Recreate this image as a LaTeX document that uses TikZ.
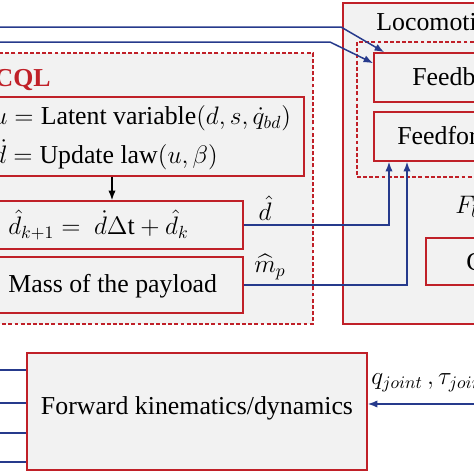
\documentclass[tikz,border=0pt]{standalone}
\usepackage{amsmath}
\usepackage{fontspec}
\setmainfont{Liberation Serif}
\usepackage{tikz}
\usetikzlibrary{arrows.meta,positioning,fit}
\definecolor{boxred}{RGB}{192,32,40}
\definecolor{linkblue}{RGB}{38,58,140}
\definecolor{panelgray}{RGB}{242,242,242}

\begin{document}
\begin{tikzpicture}[x=0.02cm,y=-0.02cm,
    redbox/.style={draw=boxred, line width=0.9pt, fill=panelgray, inner sep=0pt},
    dashbox/.style={draw=boxred, line width=0.6pt, dash pattern=on 2.2pt off 1.3pt, fill=panelgray, inner sep=0pt},
    link/.style={draw=linkblue, line width=0.85pt},
    tip/.style={-{Latex[length=5.5pt,width=4.2pt]}},
    txt/.style={font=\fontsize{14.7}{17}\selectfont, inner sep=0pt}]
    \useasboundingbox (0,0) rectangle (474,474);
    \clip (0,0) rectangle (474,474);

    % DCQL block
    \node[dashbox, fit={(-10,53) (313,324)}] (dcql) {};
    \node[txt, anchor=east, text=boxred] (dcqltitle) at (51,80) {\textbf{DCQL}};
    \node[redbox, fit={(-40,97) (304,176)}] (lat) {};
    \node[txt, anchor=west] (latline) at (-7,118) {$u = \text{Latent variable}(d, s, \dot{q}_{bd})$};
    \node[txt, anchor=west] (updline) at (-7,155) {$\dot{d} = \text{Update law}(u, \beta)$};
    \node[redbox, fit={(-40,201) (243,249)}] (est) {};
    \node[txt, anchor=west] (estline) at (8,225) {$\hat{d}_{k+1} = \ \dot{d}\Delta\mathrm{t} + \hat{d}_k$};
    \node[redbox, fit={(-40,257) (243,313)}] (mass) {};
    \node[txt, anchor=west] (massline) at (8,286) {Mass of the payload};

    % Locomotion block
    \node[redbox, fit={(343,3) (520,324)}] (loco) {};
    \node[txt, anchor=west] (locotitle) at (376,22) {Locomotion};
    \node[dashbox, fit={(357,42) (520,177)}] (ctrl) {};
    \node[redbox, fit={(374,53) (520,102)}] (fbk) {};
    \node[txt, anchor=west] (fbkline) at (412,77) {Feedback};
    \node[redbox, fit={(374,112) (520,161)}] (ffw) {};
    \node[txt, anchor=west] (ffwline) at (397,136) {Feedforward};
    \node[txt, anchor=west] (fbforce) at (455,207) {$F_b$};
    \node[redbox, fit={(426,238) (520,285)}] (cbox) {};
    \node[txt, anchor=west] (cline) at (466,262) {C};

    % Forward kinematics block
    \node[redbox, fit={(27,353) (367,470)}] (fkd) {};
    \node[txt] (fkdline) at (197,408) {Forward kinematics/dynamics};

    % Arrows into the controller
    \coordinate (in1) at (0,27);
    \coordinate (in2) at (0,42);
    \draw[link,tip] (in1) -- (341,27) -- ([xshift=0.22cm]fbk.north west);
    \draw[link,tip] (in2) -- (330,42) -- ([yshift=-0.22cm]fbk.north west);
    \coordinate (dn) at (112,188);
    \draw[line width=0.85pt,tip] (dn |- lat.south) -- (dn |- est.north);
    \coordinate (dup) at (389,0);
    \coordinate (mup) at (407,0);
    \draw[link,tip] (est.east) -- (est.east -| dup) -- (dup |- ffw.south);
    \draw[link,tip] (mass.east) -- (mass.east -| mup) -- (mup |- ffw.south);
    \node[txt] (dlabel) at (265,208) {$\hat{d}$};
    \node[txt] (mlabel) at (270,267) {$\widehat{m}_p$};

    % Lines at the kinematics block
    \foreach \y in {370,403,433,462} {
        \coordinate (o\y) at (0,\y);
        \draw[link] (o\y) -- (o\y -| fkd.west);
    }
    \coordinate (qin) at (474,404);
    \draw[link,tip] (qin) -- (qin -| fkd.east);
    \node[txt, anchor=west] (qlabel) at (371,383) {$q_{joint}\,,\tau_{joint}$};
\end{tikzpicture}
\end{document}
